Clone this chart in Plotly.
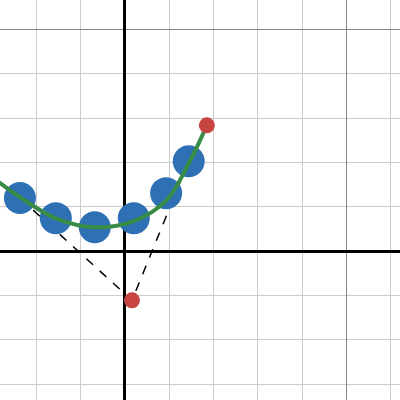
import plotly.graph_objects as go

blue_x = [-2.37, -1.56, -0.68, 0.20, 0.93, 1.44]
blue_y = [1.20, 0.745, 0.54, 0.745, 1.31, 2.03]
red_x = [1.85, 0.16]
red_y = [2.84, -1.11]
curve_x = [-2.9, -2.37, -1.56, -0.68, 0.20, 0.93, 1.44, 1.85]
curve_y = [1.60, 1.22, 0.74, 0.54, 0.68, 1.14, 1.98, 2.84]
dash_x = [-2.37, 0.16, 1.44]
dash_y = [1.20, -1.11, 2.03]

fig = go.Figure()
fig.add_trace(go.Scatter(x=dash_x, y=dash_y, mode="lines",
                         line=dict(color="black", width=1.5, dash="dash")))
fig.add_trace(go.Scatter(x=blue_x, y=blue_y, mode="markers",
                         marker=dict(color="#2d70b3", size=32)))
fig.add_trace(go.Scatter(x=curve_x, y=curve_y, mode="lines",
                         line=dict(color="#388c46", width=4, shape="spline")))
fig.add_trace(go.Scatter(x=red_x, y=red_y, mode="markers",
                         marker=dict(color="#c74440", size=16)))

ax = dict(showticklabels=False, dtick=5, tick0=0, gridcolor="#888", gridwidth=1,
          minor=dict(dtick=1, gridcolor="#ccc", gridwidth=1, showgrid=True),
          zeroline=True, zerolinecolor="black", zerolinewidth=2.5, showline=False)
fig.update_layout(width=400, height=400, margin=dict(l=0, r=0, t=0, b=0),
                  plot_bgcolor="white", paper_bgcolor="white", showlegend=False,
                  xaxis=dict(range=[-2.82, 6.21], **ax),
                  yaxis=dict(range=[-3.36, 5.67], **ax))
fig.write_html("out.html", config={"displayModeBar": False},
               post_script="document.body.style.margin='0';document.body.style.overflow='hidden';")
